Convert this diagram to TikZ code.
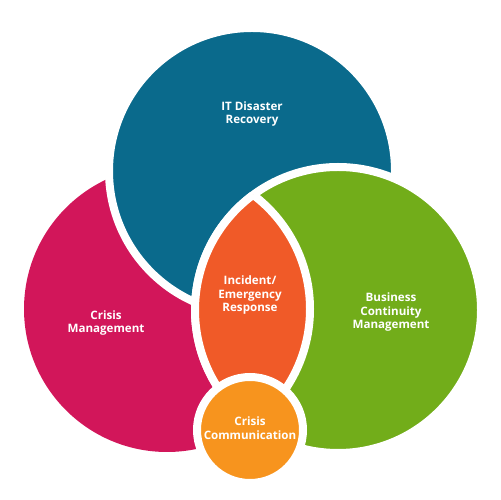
\documentclass[tikz,border=0pt]{standalone}
\usepackage{fontspec}
\setmainfont{Open Sans}
\definecolor{DRBlue}{RGB}{10,106,140}
\definecolor{CMPink}{RGB}{210,22,90}
\definecolor{BCGreen}{RGB}{114,173,26}
\definecolor{IRRed}{RGB}{240,90,40}
\definecolor{CCOrange}{RGB}{247,148,30}
\usetikzlibrary{positioning}

\begin{document}
\begin{tikzpicture}[
  x=0.02cm, y=0.02cm,
  disc/.style={draw=white, line width=0.16cm},
  lbl/.style={text=white, align=center, inner sep=0pt,
              font=\fontsize{6.6}{7.6}\selectfont\bfseries},
]
  \useasboundingbox (0,0) rectangle (500,500);

  % the three big circles
  \fill[CMPink] (167,191) circle (143);
  \draw[disc, fill=DRBlue] (252,329) circle (143);
  \draw[disc, fill=BCGreen] (338,190) circle (143);

  % lens between crisis management and business continuity
  \begin{scope}
    \clip (167,191) circle (143);
    \draw[disc, fill=IRRed] (338,190) circle (143);
  \end{scope}
  \begin{scope}
    \clip (338,190) circle (143);
    \draw[disc] (167,191) circle (143);
  \end{scope}

  \draw[disc, fill=CCOrange] (250,70) circle (53);

  \node[lbl] (itdr) at (252,386) {IT Disaster\\Recovery};
  \node[lbl] (crisis) at (106,177) {Crisis\\Management};
  \node[lbl] (incident) at (250,205) {Incident/\\Emergency\\Response};
  \node[lbl] (bcm) at (391,188) {Business\\Continuity\\Management};
  \node[lbl] (comm) at (250,72) {Crisis\\Communication};
\end{tikzpicture}
\end{document}
